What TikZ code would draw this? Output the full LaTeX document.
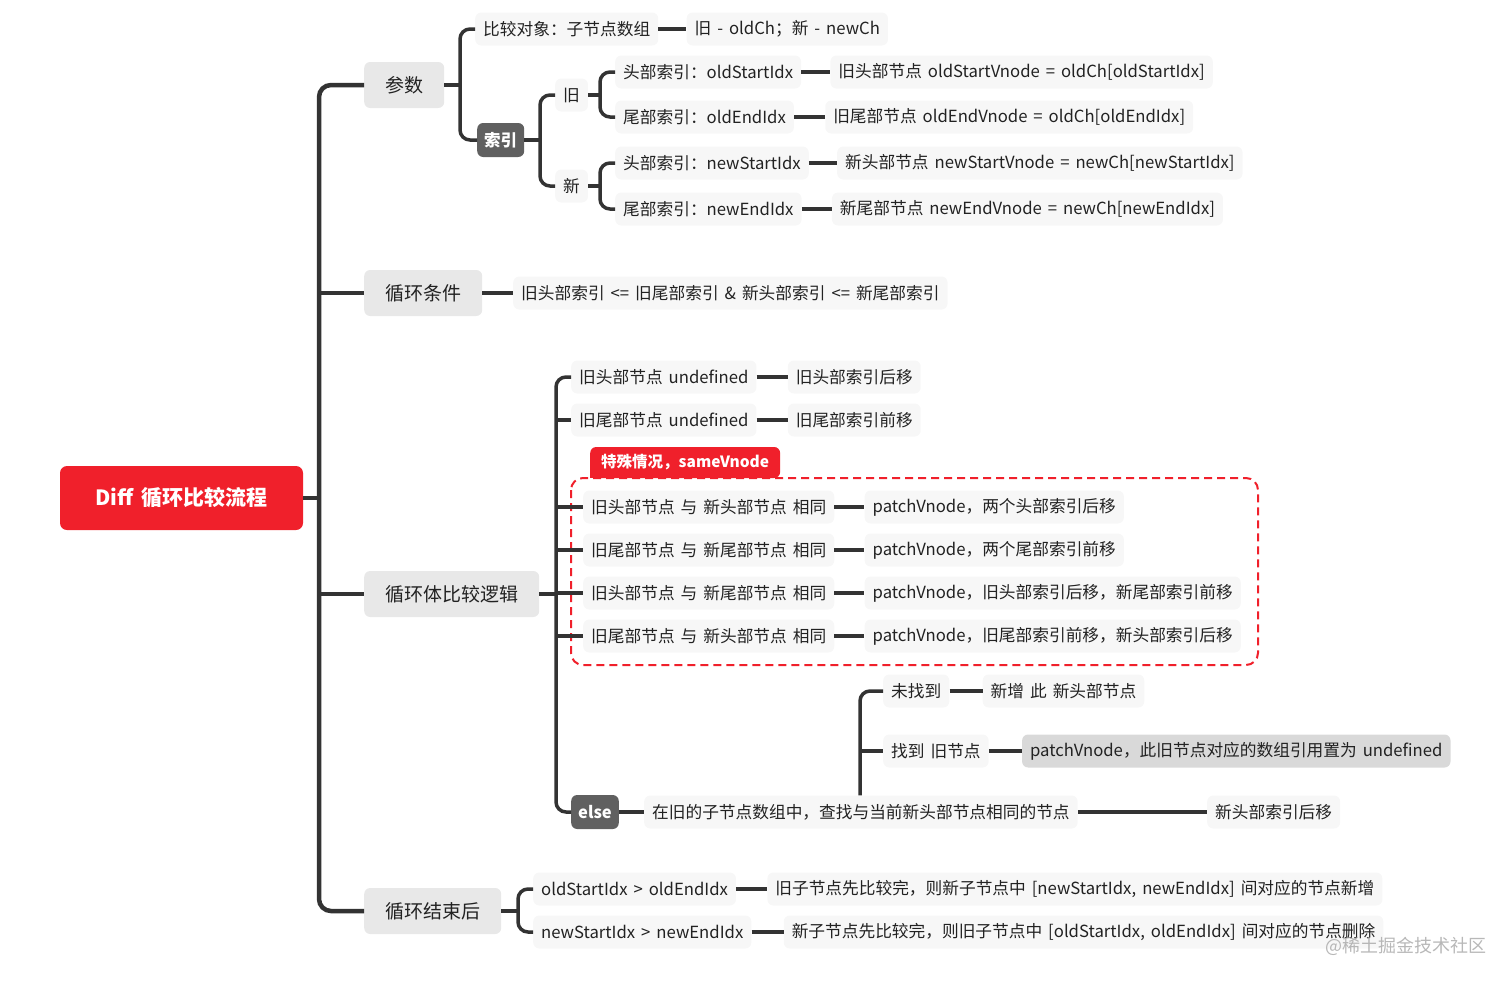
\documentclass[tikz,border=0pt]{standalone}
\usepackage{fontspec}
\setmainfont{Noto Sans CJK SC}[WordSpace=1.6]
\usetikzlibrary{positioning}
\definecolor{ln}{HTML}{333333}
\definecolor{txt}{HTML}{222222}
\definecolor{leafbg}{HTML}{F7F7F7}
\definecolor{mainbg}{HTML}{E8E8E8}
\definecolor{darkbg}{HTML}{606060}
\definecolor{patchbg}{HTML}{D9D9D9}
\definecolor{redc}{HTML}{F0202B}
\begin{document}
\begin{tikzpicture}[x=1pt,y=-1pt,
  leaf/.style={fill=leafbg, rounded corners=6pt, inner xsep=8pt, inner ysep=0pt, minimum height=33pt, text=txt, font=\fontsize{16.7}{20}\selectfont},
  mainbr/.style={fill=mainbg, rounded corners=6pt, inner xsep=21pt, inner ysep=0pt, minimum height=46pt, text=txt, font=\fontsize{19}{22}\selectfont},
  darkbox/.style={fill=darkbg, rounded corners=6pt, inner xsep=7pt, inner ysep=0pt, minimum height=34pt, text=white, font=\fontsize{16.5}{20}\selectfont\bfseries},
  conn/.style={draw=ln, line width=3.5pt},
  trunk/.style={draw=ln, line width=4.5pt},
  node distance=30pt]
\useasboundingbox (0,0) rectangle (1512,983);

% root
\node[fill=redc, rounded corners=7pt, minimum width=243pt, minimum height=64pt, text=white, font=\fontsize{21}{25}\selectfont\bfseries] (root) at (181.5,498) {Diff 循环比较流程};

% main branches
\node[mainbr, anchor=west] (canshu) at (364,85) {参数};
\node[mainbr, anchor=west] (tiaojian) at (364,293) {循环条件};
\node[mainbr, anchor=west] (ti) at (364,594) {循环体比较逻辑};
\node[mainbr, anchor=west] (jieshu) at (364,911) {循环结束后};

% 参数
\node[leaf, anchor=west] (bijiao) at (475,29) {比较对象：子节点数组};
\node[leaf, right=28pt of bijiao] (oldnew) {旧 - oldCh；新 - newCh};
\node[darkbox, anchor=west] (suoyin) at (477,140) {索引};
\node[leaf, anchor=west] (jiu) at (555,95) {旧};
\node[leaf, anchor=west] (xin) at (555,186) {新};
\node[leaf, anchor=west] (ohs) at (615,72) {头部索引：oldStartIdx};
\node[leaf, right=29pt of ohs] (ohsv) {旧头部节点 oldStartVnode = oldCh[oldStartIdx]};
\node[leaf, anchor=west] (oes) at (615,117) {尾部索引：oldEndIdx};
\node[leaf, right=31pt of oes] (oesv) {旧尾部节点 oldEndVnode = oldCh[oldEndIdx]};
\node[leaf, anchor=west] (nhs) at (615,163) {头部索引：newStartIdx};
\node[leaf, right=28pt of nhs] (nhsv) {新头部节点 newStartVnode = newCh[newStartIdx]};
\node[leaf, anchor=west] (nes) at (615,209) {尾部索引：newEndIdx};
\node[leaf, right=30pt of nes] (nesv) {新尾部节点 newEndVnode = newCh[newEndIdx]};

% 循环条件
\node[leaf, anchor=west] (cond) at (513,293) {旧头部索引 <= 旧尾部索引 \& 新头部索引 <= 新尾部索引};

% 循环体
\node[leaf, anchor=west] (u1) at (571,377) {旧头部节点 undefined};
\node[leaf, right=31pt of u1] (u1r) {旧头部索引后移};
\node[leaf, anchor=west] (u2) at (571,420) {旧尾部节点 undefined};
\node[leaf, right=31pt of u2] (u2r) {旧尾部索引前移};
\node[leaf, anchor=west] (r1) at (583,507) {旧头部节点 与 新头部节点 相同};
\node[leaf, right=30pt of r1] (r1r) {patchVnode，两个头部索引后移};
\node[leaf, anchor=west] (r2) at (583,550) {旧尾部节点 与 新尾部节点 相同};
\node[leaf, right=30pt of r2] (r2r) {patchVnode，两个尾部索引前移};
\node[leaf, anchor=west] (r3) at (583,593) {旧头部节点 与 新尾部节点 相同};
\node[leaf, right=30pt of r3] (r3r) {patchVnode，旧头部索引后移，新尾部索引前移};
\node[leaf, anchor=west] (r4) at (583,636) {旧尾部节点 与 新头部节点 相同};
\node[leaf, right=30pt of r4] (r4r) {patchVnode，旧尾部索引前移，新头部索引后移};
\node[darkbox, anchor=west] (els) at (571,812) {else};
\node[leaf, right=25pt of els] (chazhao) {在旧的子节点数组中，查找与当前新头部节点相同的节点};
\node[leaf, anchor=west] (xintou) at (1207,812) {新头部索引后移};
\node[leaf, anchor=west] (weizhao) at (883,691) {未找到};
\node[leaf, right=33pt of weizhao] (xinzeng) {新增 此 新头部节点};
\node[leaf, anchor=west] (zhaodao) at (883,751) {找到 旧节点};
\node[leaf, fill=patchbg, right=33pt of zhaodao] (patch) {patchVnode，此旧节点对应的数组引用置为 undefined};

% 循环结束后
\node[leaf, anchor=west] (e1) at (533,889) {oldStartIdx > oldEndIdx};
\node[leaf, right=31pt of e1] (e1r) {旧子节点先比较完，则新子节点中 [newStartIdx, newEndIdx] 间对应的节点新增};
\node[leaf, anchor=west] (e2) at (533,932) {newStartIdx > newEndIdx};
\node[leaf, right=32pt of e2] (e2r) {新子节点先比较完，则旧子节点中 [oldStartIdx, oldEndIdx] 间对应的节点删除};

% special frame and tab
\draw[redc, line width=2pt, dash pattern=on 8pt off 5pt, rounded corners=12pt] (571,478) rectangle (1258,665);
\fill[redc] (590,463) rectangle (770,478);
\node[fill=redc, rounded corners=6pt, anchor=west, minimum height=31pt, inner xsep=11pt, inner ysep=0pt, text=white, font=\fontsize{15.5}{18}\selectfont\bfseries] (tab) at (590,462.5) {特殊情况，sameVnode};

% trunk
\coordinate (tr) at (319,498);
\draw[trunk] (root.east) -- (tr);
\draw[trunk, rounded corners=12pt] (canshu.west) -| (tr) |- (jieshu.west);
\draw[trunk] (tr |- tiaojian.west) -- (tiaojian.west);
\draw[trunk] (tr |- ti.west) -- (ti.west);

% 参数 bracket
\coordinate (bP) at (460,85);
\draw[conn] (canshu.east) -- (bP);
\draw[conn, rounded corners=10pt] (bijiao.west) -| (bP) |- (suoyin.west);
\draw[conn] (bijiao.east) -- (oldnew.west);

% 索引 bracket
\coordinate (bS) at (540,140);
\draw[conn] (suoyin.east) -- (bS);
\draw[conn, rounded corners=10pt] (jiu.west) -| (bS) |- (xin.west);

% 旧 bracket
\coordinate (bJ) at (600,95);
\draw[conn] (jiu.east) -- (bJ);
\draw[conn, rounded corners=10pt] (ohs.west) -| (bJ) |- (oes.west);
\draw[conn] (ohs.east) -- (ohsv.west);
\draw[conn] (oes.east) -- (oesv.west);

% 新 bracket
\coordinate (bX) at (600,186);
\draw[conn] (xin.east) -- (bX);
\draw[conn, rounded corners=10pt] (nhs.west) -| (bX) |- (nes.west);
\draw[conn] (nhs.east) -- (nhsv.west);
\draw[conn] (nes.east) -- (nesv.west);

% 循环条件
\draw[conn] (tiaojian.east) -- (cond.west);

% 循环体 bracket
\coordinate (bT) at (556,594);
\draw[conn] (ti.east) -- (bT);
\draw[conn, rounded corners=10pt] (u1.west) -| (bT) |- (els.west);
\foreach \n in {u2,r1,r2,r3,r4} \draw[conn] (bT |- \n.west) -- (\n.west);
\draw[conn] (u1.east) -- (u1r.west);
\draw[conn] (u2.east) -- (u2r.west);
\draw[conn] (r1.east) -- (r1r.west);
\draw[conn] (r2.east) -- (r2r.west);
\draw[conn] (r3.east) -- (r3r.west);
\draw[conn] (r4.east) -- (r4r.west);
\draw[conn] (els.east) -- (chazhao.west);
\draw[conn] (chazhao.east) -- (xintou.west);

% else sub-bracket
\coordinate (bEt) at (860,691);
\coordinate (bEb) at (bEt |- chazhao.north);
\draw[conn, rounded corners=10pt] (weizhao.west) -| (bEb);
\draw[conn] (bEb |- zhaodao.west) -- (zhaodao.west);
\draw[conn] (weizhao.east) -- (xinzeng.west);
\draw[conn] (zhaodao.east) -- (patch.west);

% 循环结束后 bracket
\coordinate (bJS) at (518,911);
\draw[conn] (jieshu.east) -- (bJS);
\draw[conn, rounded corners=10pt] (e1.west) -| (bJS) |- (e2.west);
\draw[conn] (e1.east) -- (e1r.west);
\draw[conn] (e2.east) -- (e2r.west);

% watermark
\node[text=black!35, font=\fontsize{18}{22}\selectfont, opacity=0.8] (wm) at (1406,946) {@稀土掘金技术社区};
\end{tikzpicture}
\end{document}
